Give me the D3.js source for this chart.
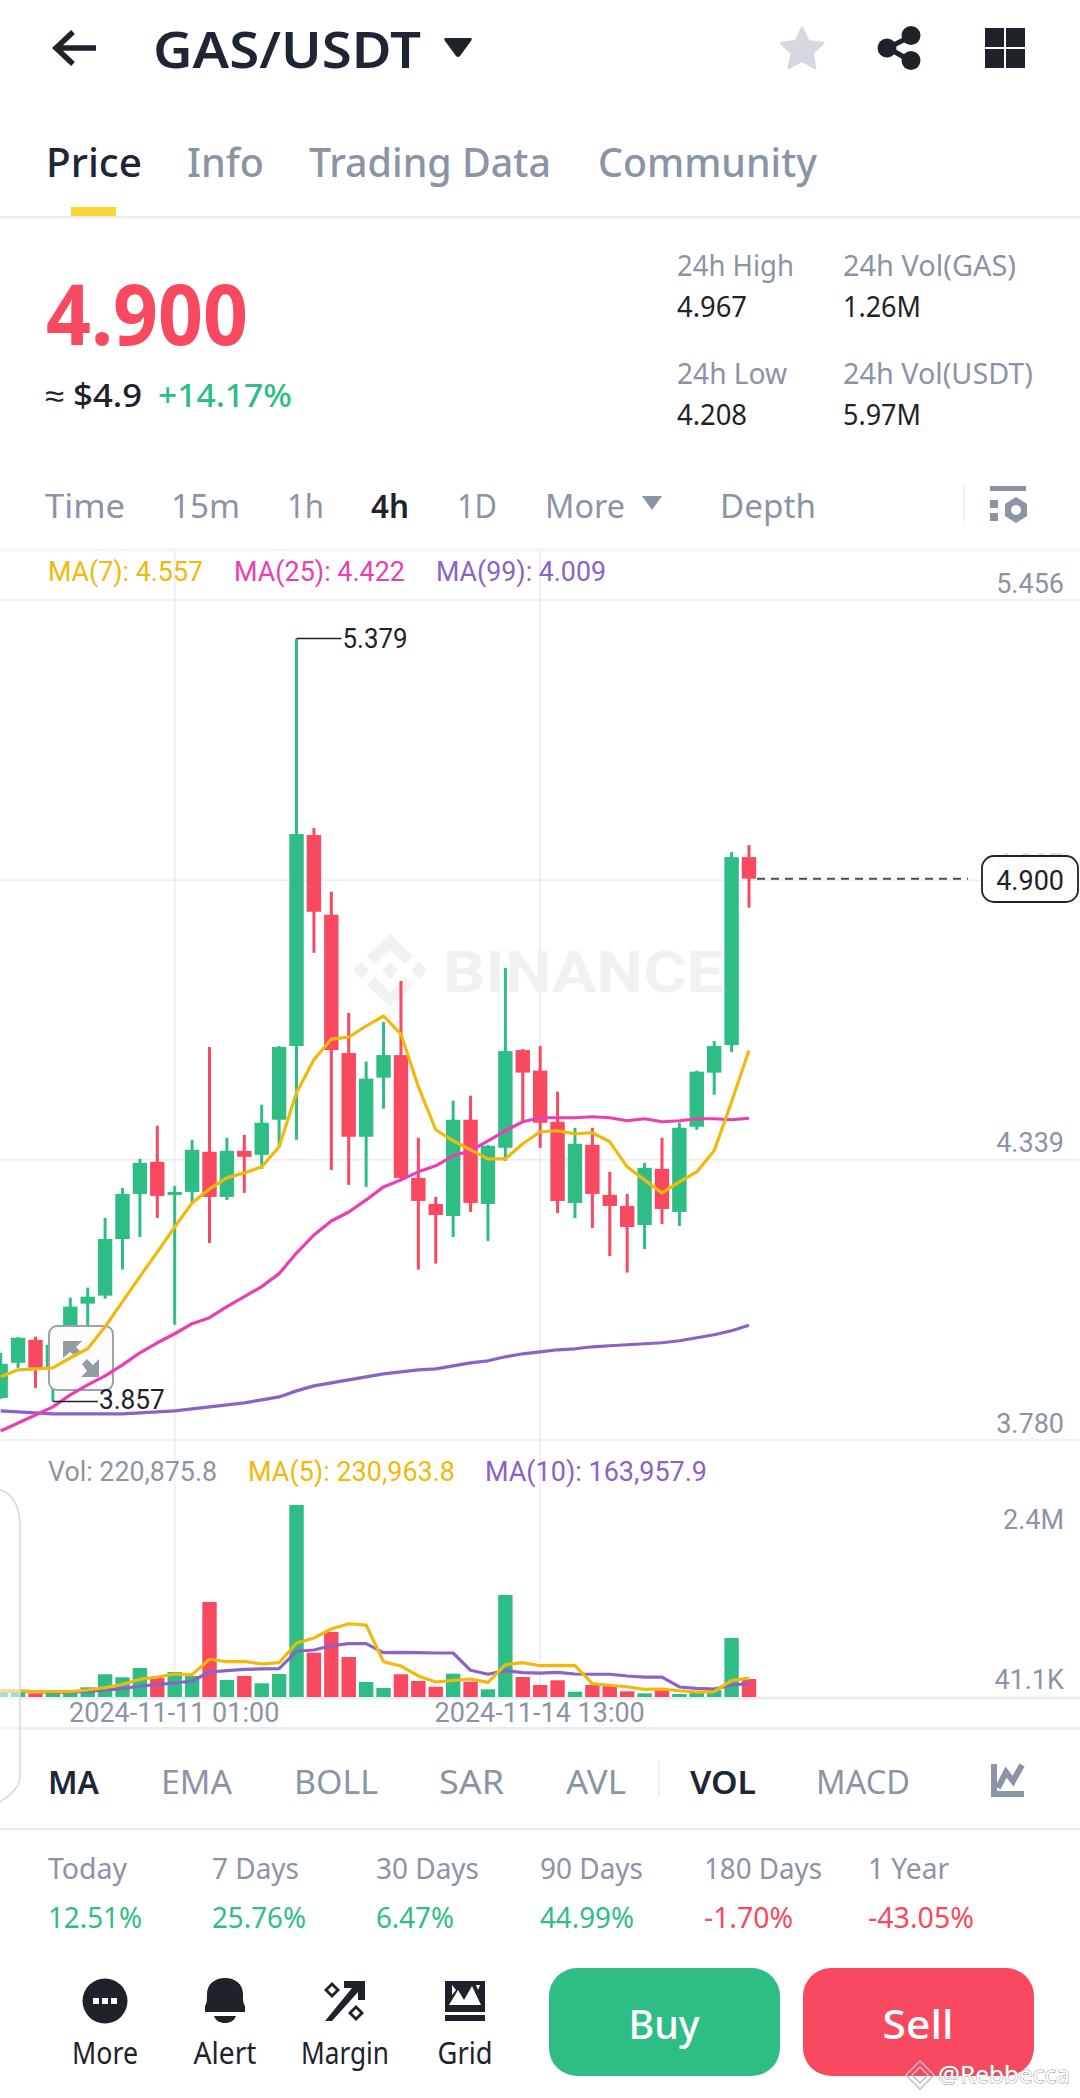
<!DOCTYPE html>
<html><head><meta charset="utf-8">
<script src="https://cdn.jsdelivr.net/npm/d3@7"></script>
<style>html,body{margin:0;padding:0;background:#fff;overflow:hidden}svg{display:block}</style>
</head><body><svg id="c" width="1080" height="2098" viewBox="0 0 1080 2098"></svg>
<script>
// ---- data ----
const opens =[3.864,3.934,3.980,3.924,3.970,4.052,4.068,4.181,4.271,4.335,4.269,4.275,4.355,4.265,4.357,4.349,4.419,4.566,4.987,4.828,4.552,4.385,4.503,4.548,4.303,4.251,4.227,4.419,4.251,4.363,4.558,4.517,4.415,4.253,4.369,4.269,4.247,4.209,4.321,4.235,4.405,4.513,4.568,4.943];
const closes=[3.932,3.984,3.924,3.970,4.046,4.066,4.181,4.271,4.333,4.267,4.275,4.359,4.265,4.357,4.345,4.413,4.564,4.989,4.834,4.558,4.385,4.501,4.548,4.303,4.257,4.229,4.419,4.253,4.367,4.556,4.513,4.413,4.257,4.371,4.271,4.247,4.205,4.323,4.241,4.403,4.515,4.566,4.943,4.900];
const highs =[3.954,3.985,3.986,3.980,4.064,4.084,4.223,4.283,4.341,4.407,4.287,4.379,4.564,4.383,4.389,4.449,4.566,5.379,5.001,4.874,4.632,4.535,4.614,4.696,4.383,4.265,4.457,4.467,4.369,4.722,4.560,4.566,4.475,4.403,4.403,4.315,4.271,4.333,4.383,4.413,4.517,4.576,4.953,4.967];
const lows  =[3.862,3.924,3.884,3.857,3.960,4.000,4.062,4.120,4.185,4.223,4.010,4.253,4.173,4.259,4.273,4.321,4.363,4.379,4.752,4.319,4.289,4.285,4.441,4.299,4.120,4.132,4.185,4.235,4.177,4.337,4.413,4.363,4.233,4.223,4.203,4.147,4.114,4.161,4.211,4.207,4.399,4.469,4.554,4.842];
const ma7   =[3.906,3.920,3.922,3.924,3.944,3.962,4.006,4.056,4.106,4.155,4.205,4.253,4.281,4.303,4.313,4.325,4.365,4.473,4.539,4.580,4.584,4.606,4.626,4.590,4.485,4.399,4.377,4.359,4.341,4.341,4.371,4.395,4.397,4.391,4.393,4.375,4.325,4.299,4.273,4.295,4.315,4.357,4.455,4.557];
const ma25  =[3.798,3.814,3.830,3.846,3.870,3.890,3.908,3.930,3.954,3.974,3.992,4.012,4.024,4.046,4.066,4.086,4.112,4.153,4.189,4.217,4.235,4.259,4.285,4.299,4.315,4.327,4.347,4.357,4.377,4.397,4.415,4.423,4.423,4.423,4.425,4.423,4.417,4.421,4.415,4.417,4.421,4.421,4.419,4.422];
const ma99  =[3.838,3.836,3.834,3.832,3.832,3.832,3.832,3.832,3.834,3.836,3.838,3.842,3.846,3.850,3.854,3.860,3.866,3.878,3.888,3.894,3.900,3.906,3.912,3.916,3.920,3.922,3.928,3.934,3.938,3.946,3.952,3.956,3.960,3.962,3.966,3.968,3.970,3.972,3.974,3.978,3.984,3.990,3.998,4.009];
const volumes=[58000,65000,45000,58000,65000,119000,279000,242000,356000,237000,307000,258000,1166000,209000,258000,168000,282000,2356000,544000,798000,491000,184000,110000,279000,196000,126000,286000,188000,94000,1252000,245000,147000,205000,65000,147000,135000,70000,45000,82000,37000,53000,86000,724000,220875.8];
const volMa5 =[74000,74000,67000,65000,65000,86000,114000,156000,217000,245000,282000,274000,463000,433000,438000,405000,421000,663000,724000,834000,899000,883000,433000,380000,258000,184000,205000,221000,180000,396000,421000,384000,389000,384000,163000,144000,126000,94000,98000,77000,61000,65000,205000,230963.8];
const volMa10=[74000,70000,65000,61000,61000,70000,86000,102000,135000,151000,172000,196000,307000,323000,340000,344000,347000,561000,577000,629000,654000,654000,544000,548000,544000,540000,540000,328000,279000,323000,298000,294000,303000,282000,279000,279000,258000,245000,245000,123000,107000,98000,147000,163957.9];
const priceTicks=[5.456,4.897,4.339,3.780];
const volTicks=[2400000,41100];
const volTickLabels=["2.4M","41.1K"];
const timeTicks=[10,31];
const timeTickLabels=["2024-11-11 01:00","2024-11-14 13:00"];
const tabs=["Price","Info","Trading Data","Community"];
const intervals=["Time","15m","1h","4h","1D","More","Depth"];
const indicators=["MA","EMA","BOLL","SAR","AVL","VOL","MACD"];
const periodNames=["Today","7 Days","30 Days","90 Days","180 Days","1 Year"];
const periodValues=["12.51%","25.76%","6.47%","44.99%","-1.70%","-43.05%"];
const actions=["More","Alert","Margin","Grid"];
const lastPrice=4.900, highMark=5.379, lowMark=3.857;

// ---- style ----
const GREEN="#2EBD85",RED="#F84960",INK="#1E2329",TITLE="#1E2636",GREY="#8A94A6",LINE="#EAECEF",YEL="#F0B90B",PINK="#E93FB3",PUR="#8B62C6";
const UI='"Noto Sans",sans-serif', NUM='Roboto,sans-serif';
const svg=d3.select("#c");
svg.append("rect").attr("width",1080).attr("height",2098).attr("fill","#fff");
function T(p,x,y,s,size,fill,o={}){
  const t=p.append("text").attr("x",x).attr("y",y).text(s).attr("font-size",size).attr("fill",fill)
    .attr("font-family",o.f||UI).attr("font-weight",o.w||400).attr("text-anchor",o.a||"start");
  if(o.l) t.attr("textLength",o.l).attr("lengthAdjust","spacingAndGlyphs");
  return t;
}
// ---- scales ----
const x=d3.scaleLinear().domain([0,43]).range([0.67,749]);
const y=d3.scaleLinear().domain([3.780,5.456]).range([1440,600]);
const yv=d3.scaleLinear().domain([0,2400000]).range([1697,1501.4]);
const idx=d3.range(opens.length);
const BW=14.4, WW=3;

// ---- header ----
const h=svg.append("g");
h.append("path").attr("d","M96 48H58M73 32L56 48L73 64").attr("fill","none").attr("stroke",INK).attr("stroke-width",5.5);
T(h,153,68,"GAS/USDT",50,TITLE,{w:600,l:268});
h.append("path").attr("d","M446 38H470Q473 38 471 41L460 56Q458 58 456 56L445 41Q443 38 446 38Z").attr("fill",INK);
h.append("path").attr("d",d3.lineRadial().curve(d3.curveLinearClosed).angle((d,i)=>i*Math.PI/5).radius((d,i)=>i%2?10.5:22)(d3.range(10))).attr("transform","translate(802,50)").attr("fill","#D5D9DF").attr("stroke","#D5D9DF").attr("stroke-width",3).attr("stroke-linejoin","round");
const sh=h.append("g");
sh.append("path").attr("d","M911 36L888 48L911 61").attr("fill","none").attr("stroke",INK).attr("stroke-width",5);
[[911,35.5],[887,48],[911,60.5]].forEach(d=>sh.append("circle").attr("cx",d[0]).attr("cy",d[1]).attr("r",9.5).attr("fill",INK));
[[985,28],[1006,28],[985,49],[1006,49]].forEach(d=>h.append("rect").attr("x",d[0]).attr("y",d[1]).attr("width",19).attr("height",19).attr("fill",INK));
const tabX=[[46,96],[187,77],[309,242],[598,219]];
tabs.forEach((s,i)=>T(h,tabX[i][0],177,s,39,i?GREY:TITLE,{w:500,l:tabX[i][1]}));
h.append("rect").attr("x",71).attr("y",207).attr("width",45).attr("height",9).attr("fill","#FCD535");
h.append("rect").attr("x",0).attr("y",216).attr("width",1080).attr("height",2.5).attr("fill",LINE);
T(h,46,345,"4.900",84,RED,{w:700,l:202});
T(h,45,407,"≈ $4.9",32,INK,{w:500,l:97});
T(h,158,407,"+14.17%",32,GREEN,{w:500,l:134});
[[677,276,"24h High",GREY,117],[843,276,"24h Vol(GAS)",GREY,173],[677,317,"4.967",INK,70],[843,317,"1.26M",INK,78],
 [677,384,"24h Low",GREY,110],[843,384,"24h Vol(USDT)",GREY,190],[677,425,"4.208",INK,70],[843,425,"5.97M",INK,78]]
 .forEach(d=>T(h,d[0],d[1],d[2],29,d[3],{l:d[4]}));
const intX=[[45,80],[171,69],[287,37],[371,38],[457,40],[545,80],[720,96]];
intervals.forEach((s,i)=>T(h,intX[i][0],518,s,33,s==="4h"?INK:GREY,{w:s==="4h"?600:400,l:intX[i][1]}));
h.append("path").attr("d","M642 496H662L652 510Z").attr("fill",GREY);
h.append("rect").attr("x",963.5).attr("y",485).attr("width",1.5).attr("height",36).attr("fill",LINE);
const st=h.append("g").attr("fill",GREY);
st.append("rect").attr("x",990).attr("y",486).attr("width",36).attr("height",5);
st.append("rect").attr("x",990).attr("y",500).attr("width",8).attr("height",8);
st.append("rect").attr("x",990).attr("y",513).attr("width",8).attr("height",8);
st.append("path").attr("d","M1016 497L1027 504V516L1016 523L1005 516V504ZM1016 505A5 5 0 1 0 1016.01 505Z").attr("fill-rule","evenodd");

// ---- chart frame ----
svg.append("rect").attr("x",0).attr("y",548).attr("width",1080).attr("height",3.5).attr("fill","#F5F5F5");
const grid=svg.append("g").attr("stroke",LINE).attr("stroke-width",1.5);
grid.selectAll("line.h").data(priceTicks).join("line").attr("x1",0).attr("x2",1080).attr("y1",d=>y(d)).attr("y2",d=>y(d));
grid.selectAll("line.v").data(timeTicks).join("line").attr("x1",d=>x(d)).attr("x2",d=>x(d)).attr("y1",551).attr("y2",1697);
svg.append("rect").attr("x",0).attr("y",yv(0)-.5).attr("width",1080).attr("height",3).attr("fill",LINE);
svg.append("rect").attr("x",0).attr("y",1727).attr("width",1080).attr("height",2.5).attr("fill",LINE);

// ---- watermark ----
const wm=svg.append("g").attr("fill","#EFF1F2");
wm.append("path").attr("d","M390 934L413 956L405 964L390 950L375 964L367 956ZM353 970L361 962L369 970L361 979ZM411 970L419 962L427 970L419 979ZM390 962L398 970L390 979L382 970ZM390 1007L367 985L375 977L390 993L405 977L413 985Z");
T(wm,443,992,"BINANCE",58,"#EFF1F2",{f:NUM,w:700,l:281});

// ---- candles ----
const colour=i=>closes[i]>=opens[i]?GREEN:RED;
const cg=svg.append("g");
cg.selectAll("rect.w").data(idx).join("rect").attr("class","w")
  .attr("x",i=>x(i)-WW/2).attr("width",WW).attr("y",i=>y(highs[i])).attr("height",i=>y(lows[i])-y(highs[i])).attr("fill",colour);
cg.selectAll("rect.b").data(idx).join("rect").attr("class","b")
  .attr("x",i=>x(i)-BW/2).attr("width",BW).attr("y",i=>y(Math.max(opens[i],closes[i])))
  .attr("height",i=>Math.max(1,Math.abs(y(opens[i])-y(closes[i])))).attr("fill",colour);

// ---- expand button ----
svg.append("rect").attr("x",49).attr("y",1326).attr("width",64).attr("height",64).attr("rx",8).attr("fill","#FCFCFC").attr("stroke","#9CA3AE").attr("stroke-width",2);
svg.append("path").attr("fill","#959BA5").attr("d","M63 1341H82L76 1347L81 1352L76 1357L70 1352L63 1358ZM99 1377H81L87 1371L82 1364L87 1359L93 1365L99 1359Z");

// ---- moving averages ----
const lineP=d3.line().x((d,i)=>x(i)).y(d=>y(d));
const lineV=d3.line().x((d,i)=>x(i)).y(d=>yv(d));
[[ma99,PUR],[ma25,PINK],[ma7,YEL]].forEach(s=>svg.append("path").attr("d",lineP(s[0])).attr("fill","none").attr("stroke",s[1]).attr("stroke-width",3.2).attr("stroke-linejoin","round"));

// ---- price axis ----
const ax=svg.append("g").attr("transform","translate(1067,0)")
  .call(d3.axisLeft(y).tickValues(priceTicks).tickSize(0).tickFormat(d3.format(".3f")));
ax.select(".domain").remove();
ax.selectAll("text").attr("font-family",NUM).attr("font-size",27).attr("dy","-8px").attr("fill",d=>d===4.897?"#DDE0E5":GREY);

// ---- extremes and last price ----
const mk=svg.append("g");
mk.append("line").attr("x1",x(17)).attr("x2",x(17)+45).attr("y1",y(highMark)).attr("y2",y(highMark)).attr("stroke",INK).attr("stroke-width",1.5);
T(mk,x(17)+46,648,d3.format(".3f")(highMark),27,INK,{f:NUM,l:65});
mk.append("line").attr("x1",x(3)).attr("x2",x(3)+45).attr("y1",y(lowMark)).attr("y2",y(lowMark)).attr("stroke",INK).attr("stroke-width",1.5);
T(mk,x(3)+46,1409,d3.format(".3f")(lowMark),27,INK,{f:NUM,l:66});
mk.append("line").attr("x1",x(43)+8).attr("x2",968).attr("y1",y(lastPrice)).attr("y2",y(lastPrice)).attr("stroke","#474D57").attr("stroke-width",2).attr("stroke-dasharray","8 6");
mk.append("rect").attr("x",982).attr("y",856).attr("width",96).attr("height",46).attr("rx",12).attr("fill","#fff").attr("fill-opacity",.82).attr("stroke",INK).attr("stroke-width",1.8);
T(mk,1064,890,d3.format(".3f")(lastPrice),27,INK,{f:NUM,a:"end"});

// ---- legends ----
T(svg,48,581,"MA(7): 4.557",27,YEL,{f:NUM,l:155});
T(svg,234,581,"MA(25): 4.422",27,PINK,{f:NUM,l:171});
T(svg,436,581,"MA(99): 4.009",27,PUR,{f:NUM,l:170});
T(svg,48,1481,"Vol: 220,875.8",27,GREY,{f:NUM,l:169});
T(svg,248,1481,"MA(5): 230,963.8",27,YEL,{f:NUM,l:207});
T(svg,485,1481,"MA(10): 163,957.9",27,PUR,{f:NUM,l:222});

// ---- volume ----
const vg=svg.append("g");
vg.selectAll("rect").data(idx).join("rect").attr("x",i=>x(i)-BW/2).attr("width",BW)
  .attr("y",i=>yv(volumes[i])).attr("height",i=>yv(0)-yv(volumes[i])).attr("fill",colour);
[[volMa10,PUR],[volMa5,YEL]].forEach(s=>svg.append("path").attr("d",lineV(s[0])).attr("fill","none").attr("stroke",s[1]).attr("stroke-width",3.2).attr("stroke-linejoin","round"));
const vax=svg.append("g").attr("transform","translate(1067,0)")
  .call(d3.axisLeft(yv).tickValues(volTicks).tickSize(0).tickFormat((d,i)=>volTickLabels[i]));
vax.select(".domain").remove();
vax.selectAll("text").attr("font-family",NUM).attr("font-size",27).attr("fill",GREY).attr("dy",(d,i)=>i?"-5.6px":"27.6px");
const tax=svg.append("g").attr("transform","translate(-1,1694)")
  .call(d3.axisBottom(x).tickValues(timeTicks).tickSize(0).tickFormat((d,i)=>timeTickLabels[i]));
tax.select(".domain").remove();
tax.selectAll("text").attr("font-family",NUM).attr("font-size",27).attr("fill",GREY).attr("y",null).attr("dy","28px");

// ---- left drawer edge ----
svg.append("path").attr("d","M-2 1489Q20 1495 20 1527V1777Q20 1790 -2 1803Z").attr("fill","#fff").attr("fill-opacity",.55).attr("stroke","#D8D8D8").attr("stroke-width",1.5);

// ---- indicator tabs ----
const f=svg.append("g");
const indX=[[48,51],[161,71],[294,84],[439,65],[566,60],[690,66],[816,94]];
indicators.forEach((s,i)=>T(f,indX[i][0],1794,s,32,(s==="MA"||s==="VOL")?TITLE:GREY,{w:(s==="MA"||s==="VOL")?600:400,l:indX[i][1]}));
f.append("rect").attr("x",658).attr("y",1761).attr("width",1.5).attr("height",36).attr("fill",LINE);
f.append("path").attr("d","M994 1764V1794H1024M998 1788L1006 1772L1013 1781L1022 1765").attr("fill","none").attr("stroke",GREY).attr("stroke-width",6);
f.append("rect").attr("x",0).attr("y",1828).attr("width",1080).attr("height",2).attr("fill",LINE);
const perX=[48,212,376,540,704,868], nameW=[79,87,103,103,118,81], valW=[94,94,78,94,89,106];
periodNames.forEach((s,i)=>T(f,perX[i],1879,s,29,GREY,{l:nameW[i]}));
periodValues.forEach((s,i)=>T(f,perX[i],1928,s,29,s[0]==="-"?RED:GREEN,{l:valW[i]}));

// ---- bottom actions ----
const actX=[105,225,345,465], actW=[66,63,88,55];
actions.forEach((s,i)=>T(f,actX[i],2064,s,30,INK,{a:"middle",l:actW[i]}));
f.append("circle").attr("cx",105).attr("cy",2001).attr("r",22.5).attr("fill",INK);
[93,102,111].forEach(v=>f.append("rect").attr("x",v).attr("y",1998).attr("width",6).attr("height",6).attr("fill","#fff"));
f.append("path").attr("fill",INK).attr("d","M205 2012V2006C207 2003 207 2000 207 1994C207 1984 215 1978 225 1978C235 1978 243 1984 243 1994C243 2000 243 2003 245 2006V2012ZM214 2016H236C234 2021 230 2023 225 2023C220 2023 216 2021 214 2016Z");
f.append("path").attr("fill-rule","evenodd").attr("fill",INK).attr("d","M365 1981V2000H358V1992L332 2021H325L352 1988H344V1981ZM332 1982L340 1990L332 1998L324 1990ZM332 1986L328 1990L332 1994L336 1990ZM356 2005L364 2013L356 2021L348 2013ZM356 2009L352 2013L356 2017L360 2013Z");
f.append("path").attr("fill-rule","evenodd").attr("fill",INK).attr("d","M445 1981H485V2012H445ZM445 2015H485V2021H445ZM449 2005L458 1990L464 2000L472 1986L481 2005ZM452 1985L456 1990L452 1995ZM476 1985L480 1985L478 1990Z");
[[549,231,GREEN,"Buy",664,71],[803,231,RED,"Sell",918,71]].forEach(d=>{
  f.append("rect").attr("x",d[0]).attr("y",1968).attr("width",d[1]).attr("height",108).attr("rx",28).attr("fill",d[2]);
  T(f,d[4],2039,d[3],40,"#fff",{w:500,a:"middle",l:d[5]});
});
// ---- footer watermark ----
const fw=svg.append("g");
fw.append("path").attr("fill","none").attr("stroke","#B9BEC6").attr("stroke-width",1.5).attr("d","M920 2061L934 2075L920 2089L906 2075ZM920 2067L928 2075L920 2083L912 2075Z");
T(fw,938,2083,"@Rebbecca",24,"#fff",{w:400,l:132}).attr("stroke","#8A8F98").attr("stroke-width",.9).attr("paint-order","stroke");
</script></body></html>
